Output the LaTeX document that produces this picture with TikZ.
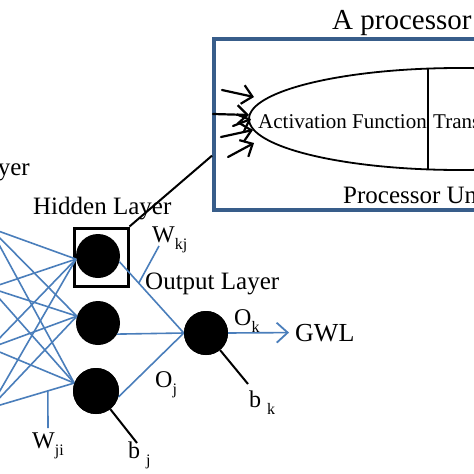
\documentclass[tikz,border=0pt]{standalone}
\usepackage{fontspec}
\setmainfont{Liberation Serif}
\usetikzlibrary{arrows.meta,shapes.geometric,calc}
\definecolor{lnblue}{RGB}{74,126,187}
\definecolor{boxblue}{RGB}{56,93,138}
\newcommand{\lsub}[1]{\raisebox{-0.3em}{\fontsize{16}{16}\selectfont #1}}
\begin{document}
\begin{tikzpicture}[x=1pt,y=-1pt,
  lbl/.style={inner sep=0pt, font=\fontsize{25}{30}\selectfont},
  smalllbl/.style={inner sep=0pt, font=\fontsize{21}{25}\selectfont},
  neuron/.style={circle, fill=black, inner sep=0pt, minimum size=44pt},
  wire/.style={draw=lnblue, line width=1.6pt},
  bline/.style={draw=black, line width=2pt},
  inarrow/.style={draw=black, line width=2.2pt, line cap=round, -{Straight Barb[length=10pt,width=19pt,line width=2.2pt]}},
]
\useasboundingbox (0,0) rectangle (474,474);
\fill[white] (0,0) rectangle (474,474);
\clip (0,0) rectangle (474,474);

% neurons
\node[neuron] (h1) at (98,256) {};
\node[neuron] (h2) at (98,323) {};
\node[neuron, minimum size=46pt] (h3) at (96,391) {};
\node[neuron] (o) at (206,333) {};
\node[draw, line width=3pt, minimum width=54pt, minimum height=58pt, inner sep=0pt] (hb) at (101,257) {};

% inputs (off canvas)
\coordinate (i1) at (-10,228);
\coordinate (i2) at (-10,288);
\coordinate (i3) at (-10,348);
\coordinate (i4) at (-10,408);
\foreach \i in {1,...,4} {
  \draw[wire] (i\i) -- (h1.188);
  \draw[wire] (i\i) -- (h2.162);
  \draw[wire] (i\i) -- (h3.160);
}

% hidden -> output
\draw[wire] (h1.-15) -- (o.west);
\draw[wire] (h2.-30) -- (o.west);
\draw[wire] (h3.-15) -- (o.west);

% weight ticks
\coordinate (wkjA) at ($(h1.-15)!0.3!(o.west)$);
\coordinate (wkjB) at (159,246);
\draw[wire] (wkjA) -- (wkjB);
\coordinate (wjiA) at ($(i4)!0.687!(h3.160)$);
\coordinate (wjiB) at (48,428);
\draw[wire] (wjiA) -- (wjiB);

% output arrow
\node[lbl, font=\fontsize{26}{30}\selectfont, anchor=base west] (gwl) at (295,341) {GWL};
\draw[wire, -{Straight Barb[length=11pt,width=20pt,line width=1.8pt]}] (o.east) -- ([xshift=-6pt]gwl.west);

% biases
\coordinate (bkend) at (248,384);
\coordinate (bjend) at (137,443);
\draw[bline] (o) -- (bkend);
\draw[bline] (h3) -- (bjend);
\fill (o) circle (22pt);
\fill (h3) circle (23pt);

% labels
\node[lbl, anchor=base east] (inl) at (30,175) {Input Layer};
\node[lbl, anchor=base west] (hl) at (33,214) {Hidden Layer};
\node[lbl, anchor=base west] (ol) at (145,289) {Output Layer};
\node[lbl, font=\fontsize{24}{28}\selectfont, anchor=base west] (wkj) at (152,242) {W\lsub{kj}};
\node[lbl, font=\fontsize{24}{28}\selectfont, anchor=base west] (wji) at (32,448) {W\lsub{ji}};
\node[lbl, font=\fontsize{24}{28}\selectfont, anchor=base west] (ok) at (234,325) {O\lsub{k}};
\node[lbl, font=\fontsize{24}{28}\selectfont, anchor=base west] (oj) at (155,387) {O\lsub{j}};
\node[lbl, font=\fontsize{24}{28}\selectfont, anchor=base west] (bk) at (249,407) {b \lsub{k}};
\node[lbl, font=\fontsize{24}{28}\selectfont, anchor=base west] (bj) at (128,458) {b \lsub{j}};

% processor unit
\node[draw=boxblue, line width=3.5pt, anchor=north west, minimum width=300pt, minimum height=171pt, inner sep=0pt] (pu) at (212,37) {};
\draw[bline] (hb.north east) -- ($(pu.north west)!0.68!(pu.south west)$);
\node[draw, ellipse, line width=1.8pt, minimum width=422pt, minimum height=102pt, inner sep=0pt] (act) at (460,119) {};
\coordinate (dv1) at (428,68.5);
\coordinate (dv2) at (428,169.5);
\draw[bline] (dv1) -- (dv2);
\node[smalllbl, anchor=base west] (actf) at (258,128) {Activation Function};
\node[smalllbl, anchor=base west] (trf) at (433,128) {Transfer Function};
\node[lbl, font=\fontsize{29}{34}\selectfont, anchor=base west] (apu) at (332,29) {A processor};
\node[lbl, anchor=base west] (pun) at (343,203) {Processor Unit};

% input arrows
\coordinate (a1t) at (222,90);  \coordinate (a1h) at (254,97);
\coordinate (a2t) at (213,114); \coordinate (a2h) at (249,115);
\coordinate (a3t) at (233,126); \coordinate (a3h) at (251,119);
\coordinate (a4t) at (221,137); \coordinate (a4h) at (253,130);
\coordinate (a5t) at (228,157); \coordinate (a5h) at (254,143);
\foreach \k in {1,...,5} { \draw[inarrow] (a\k t) -- (a\k h); }
\end{tikzpicture}
\end{document}
